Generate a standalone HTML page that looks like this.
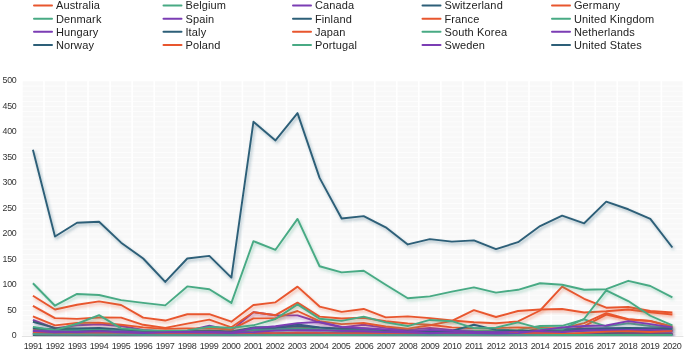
<!DOCTYPE html><html><head><meta charset="utf-8"><title>chart</title><style>
html,body{margin:0;padding:0;background:#fff}body{width:685px;height:352px;position:relative;overflow:hidden;font-family:"Liberation Sans",sans-serif;color:#333}
.lg{position:absolute;font-size:11px;line-height:13px;white-space:nowrap;color:#222;letter-spacing:0.15px}
.yl{position:absolute;left:0;width:16.2px;text-align:right;font-size:9.4px;line-height:10px;color:#333;letter-spacing:-0.4px;transform:scaleX(0.94);transform-origin:100% 50%}
.xl{position:absolute;top:340.7px;width:30px;text-align:center;font-size:9.4px;line-height:10px;color:#333;letter-spacing:-0.4px;transform:scaleX(0.965)}
</style></head><body>
<svg width="685" height="352" viewBox="0 0 685 352" style="position:absolute;left:0;top:0">
<defs><filter id="sh" x="-5%" y="-5%" width="110%" height="110%"><feGaussianBlur in="SourceGraphic" stdDeviation="1.5"/></filter></defs>
<rect x="21.9" y="81.0" width="661.5" height="255.0" fill="#f8f8f8"/>
<path d="M21.9 336.00H683.4 M21.9 330.90H683.4 M21.9 325.80H683.4 M21.9 320.70H683.4 M21.9 315.60H683.4 M21.9 310.50H683.4 M21.9 305.40H683.4 M21.9 300.30H683.4 M21.9 295.20H683.4 M21.9 290.10H683.4 M21.9 285.00H683.4 M21.9 279.90H683.4 M21.9 274.80H683.4 M21.9 269.70H683.4 M21.9 264.60H683.4 M21.9 259.50H683.4 M21.9 254.40H683.4 M21.9 249.30H683.4 M21.9 244.20H683.4 M21.9 239.10H683.4 M21.9 234.00H683.4 M21.9 228.90H683.4 M21.9 223.80H683.4 M21.9 218.70H683.4 M21.9 213.60H683.4 M21.9 208.50H683.4 M21.9 203.40H683.4 M21.9 198.30H683.4 M21.9 193.20H683.4 M21.9 188.10H683.4 M21.9 183.00H683.4 M21.9 177.90H683.4 M21.9 172.80H683.4 M21.9 167.70H683.4 M21.9 162.60H683.4 M21.9 157.50H683.4 M21.9 152.40H683.4 M21.9 147.30H683.4 M21.9 142.20H683.4 M21.9 137.10H683.4 M21.9 132.00H683.4 M21.9 126.90H683.4 M21.9 121.80H683.4 M21.9 116.70H683.4 M21.9 111.60H683.4 M21.9 106.50H683.4 M21.9 101.40H683.4 M21.9 96.30H683.4 M21.9 91.20H683.4 M21.9 86.10H683.4 M21.9 81.00H683.4" stroke="#ffffff" stroke-width="1" fill="none" opacity="0.7"/>
<path d="M21.90 81.0V336.0 M43.95 81.0V336.0 M66.00 81.0V336.0 M88.05 81.0V336.0 M110.10 81.0V336.0 M132.15 81.0V336.0 M154.20 81.0V336.0 M176.25 81.0V336.0 M198.30 81.0V336.0 M220.35 81.0V336.0 M242.40 81.0V336.0 M264.45 81.0V336.0 M286.50 81.0V336.0 M308.55 81.0V336.0 M330.60 81.0V336.0 M352.65 81.0V336.0 M374.70 81.0V336.0 M396.75 81.0V336.0 M418.80 81.0V336.0 M440.85 81.0V336.0 M462.90 81.0V336.0 M484.95 81.0V336.0 M507.00 81.0V336.0 M529.05 81.0V336.0 M551.10 81.0V336.0 M573.15 81.0V336.0 M595.20 81.0V336.0 M617.25 81.0V336.0 M639.30 81.0V336.0 M661.35 81.0V336.0 M683.40 81.0V336.0" stroke="#ffffff" stroke-width="1.6" fill="none"/>
<path d="M21.9 336.5H683.4" stroke="#e2e2e2" stroke-width="1" fill="none"/>
<clipPath id="cp"><rect x="0" y="60" width="685" height="276.2"/></clipPath><g clip-path="url(#cp)">
<polyline points="32.92,328.91 54.98,331.41 77.03,332.89 99.07,332.84 121.12,332.79 143.18,333.35 165.23,333.30 187.28,333.35 209.33,332.58 231.38,333.55 253.43,330.24 275.48,330.13 297.52,326.97 319.57,329.73 341.62,330.24 363.68,331.05 385.72,331.26 407.77,331.92 429.82,332.38 451.88,332.38 473.93,333.70 495.97,333.04 518.02,333.45 540.08,328.10 562.12,331.92 584.17,326.06 606.23,314.58 628.27,319.53 650.33,321.06 672.38,326.72" fill="none" stroke="#e8562e" stroke-width="2" stroke-opacity="0.4" filter="url(#sh)" transform="translate(1.4,2)"/>
<polyline points="32.92,328.91 54.98,331.41 77.03,332.89 99.07,332.84 121.12,332.79 143.18,333.35 165.23,333.30 187.28,333.35 209.33,332.58 231.38,333.55 253.43,330.24 275.48,330.13 297.52,326.97 319.57,329.73 341.62,330.24 363.68,331.05 385.72,331.26 407.77,331.92 429.82,332.38 451.88,332.38 473.93,333.70 495.97,333.04 518.02,333.45 540.08,328.10 562.12,331.92 584.17,326.06 606.23,314.58 628.27,319.53 650.33,321.06 672.38,326.72" fill="none" stroke="#e8562e" stroke-width="1.9" stroke-linejoin="round" stroke-linecap="butt"/>
<polyline points="32.92,327.53 54.98,330.44 77.03,330.19 99.07,330.54 121.12,331.56 143.18,331.67 165.23,332.33 187.28,330.85 209.33,331.46 231.38,332.69 253.43,329.68 275.48,329.83 297.52,329.42 319.57,329.83 341.62,331.15 363.68,330.34 385.72,330.13 407.77,330.80 429.82,331.10 451.88,331.82 473.93,332.12 495.97,332.48 518.02,330.95 540.08,331.36 562.12,329.06 584.17,329.62 606.23,330.34 628.27,329.37 650.33,329.57 672.38,330.34" fill="none" stroke="#48aa84" stroke-width="2" stroke-opacity="0.4" filter="url(#sh)" transform="translate(1.4,2)"/>
<polyline points="32.92,327.53 54.98,330.44 77.03,330.19 99.07,330.54 121.12,331.56 143.18,331.67 165.23,332.33 187.28,330.85 209.33,331.46 231.38,332.69 253.43,329.68 275.48,329.83 297.52,329.42 319.57,329.83 341.62,331.15 363.68,330.34 385.72,330.13 407.77,330.80 429.82,331.10 451.88,331.82 473.93,332.12 495.97,332.48 518.02,330.95 540.08,331.36 562.12,329.06 584.17,329.62 606.23,330.34 628.27,329.37 650.33,329.57 672.38,330.34" fill="none" stroke="#48aa84" stroke-width="1.9" stroke-linejoin="round" stroke-linecap="butt"/>
<polyline points="32.92,319.94 54.98,328.35 77.03,325.29 99.07,324.27 121.12,325.95 143.18,329.88 165.23,331.41 187.28,330.90 209.33,325.80 231.38,330.39 253.43,312.18 275.48,315.19 297.52,315.40 319.57,322.23 341.62,327.33 363.68,324.78 385.72,327.84 407.77,329.88 429.82,327.84 451.88,329.88 473.93,330.90 495.97,331.41 518.02,330.90 540.08,330.90 562.12,331.41 584.17,330.90 606.23,330.39 628.27,329.88 650.33,330.39 672.38,330.90" fill="none" stroke="#7b3db4" stroke-width="2" stroke-opacity="0.4" filter="url(#sh)" transform="translate(1.4,2)"/>
<polyline points="32.92,319.94 54.98,328.35 77.03,325.29 99.07,324.27 121.12,325.95 143.18,329.88 165.23,331.41 187.28,330.90 209.33,325.80 231.38,330.39 253.43,312.18 275.48,315.19 297.52,315.40 319.57,322.23 341.62,327.33 363.68,324.78 385.72,327.84 407.77,329.88 429.82,327.84 451.88,329.88 473.93,330.90 495.97,331.41 518.02,330.90 540.08,330.90 562.12,331.41 584.17,330.90 606.23,330.39 628.27,329.88 650.33,330.39 672.38,330.90" fill="none" stroke="#7b3db4" stroke-width="1.9" stroke-linejoin="round" stroke-linecap="butt"/>
<polyline points="32.92,328.35 54.98,329.37 77.03,329.98 99.07,330.85 121.12,330.85 143.18,332.18 165.23,333.19 187.28,332.69 209.33,331.77 231.38,332.84 253.43,329.06 275.48,328.10 297.52,325.90 319.57,327.64 341.62,329.06 363.68,329.12 385.72,331.10 407.77,331.87 429.82,332.38 451.88,332.43 473.93,331.87 495.97,331.72 518.02,331.26 540.08,330.85 562.12,330.95 584.17,329.62 606.23,328.86 628.27,330.03 650.33,329.62 672.38,329.22" fill="none" stroke="#2d5f78" stroke-width="2" stroke-opacity="0.4" filter="url(#sh)" transform="translate(1.4,2)"/>
<polyline points="32.92,328.35 54.98,329.37 77.03,329.98 99.07,330.85 121.12,330.85 143.18,332.18 165.23,333.19 187.28,332.69 209.33,331.77 231.38,332.84 253.43,329.06 275.48,328.10 297.52,325.90 319.57,327.64 341.62,329.06 363.68,329.12 385.72,331.10 407.77,331.87 429.82,332.38 451.88,332.43 473.93,331.87 495.97,331.72 518.02,331.26 540.08,330.85 562.12,330.95 584.17,329.62 606.23,328.86 628.27,330.03 650.33,329.62 672.38,329.22" fill="none" stroke="#2d5f78" stroke-width="1.9" stroke-linejoin="round" stroke-linecap="butt"/>
<polyline points="32.92,295.81 54.98,309.48 77.03,304.79 99.07,301.42 121.12,304.99 143.18,317.64 165.23,320.55 187.28,314.22 209.33,314.22 231.38,321.72 253.43,304.99 275.48,302.34 297.52,286.63 319.57,306.57 341.62,311.83 363.68,308.97 385.72,317.33 407.77,316.37 429.82,318.15 451.88,320.55 473.93,322.23 495.97,323.30 518.02,321.41 540.08,310.50 562.12,286.63 584.17,298.77 606.23,307.69 628.27,307.03 650.33,311.01 672.38,312.44" fill="none" stroke="#e8562e" stroke-width="2" stroke-opacity="0.4" filter="url(#sh)" transform="translate(1.4,2)"/>
<polyline points="32.92,295.81 54.98,309.48 77.03,304.79 99.07,301.42 121.12,304.99 143.18,317.64 165.23,320.55 187.28,314.22 209.33,314.22 231.38,321.72 253.43,304.99 275.48,302.34 297.52,286.63 319.57,306.57 341.62,311.83 363.68,308.97 385.72,317.33 407.77,316.37 429.82,318.15 451.88,320.55 473.93,322.23 495.97,323.30 518.02,321.41 540.08,310.50 562.12,286.63 584.17,298.77 606.23,307.69 628.27,307.03 650.33,311.01 672.38,312.44" fill="none" stroke="#e8562e" stroke-width="1.9" stroke-linejoin="round" stroke-linecap="butt"/>
<polyline points="32.92,330.90 54.98,331.41 77.03,330.13 99.07,328.86 121.12,330.90 143.18,331.41 165.23,331.92 187.28,331.41 209.33,330.90 231.38,331.92 253.43,329.88 275.48,329.37 297.52,328.10 319.57,329.37 341.62,329.88 363.68,329.37 385.72,330.39 407.77,330.90 429.82,330.39 451.88,330.90 473.93,330.90 495.97,330.39 518.02,329.88 540.08,325.95 562.12,325.80 584.17,319.43 606.23,326.41 628.27,323.25 650.33,325.95 672.38,327.84" fill="none" stroke="#48aa84" stroke-width="2" stroke-opacity="0.4" filter="url(#sh)" transform="translate(1.4,2)"/>
<polyline points="32.92,330.90 54.98,331.41 77.03,330.13 99.07,328.86 121.12,330.90 143.18,331.41 165.23,331.92 187.28,331.41 209.33,330.90 231.38,331.92 253.43,329.88 275.48,329.37 297.52,328.10 319.57,329.37 341.62,329.88 363.68,329.37 385.72,330.39 407.77,330.90 429.82,330.39 451.88,330.90 473.93,330.90 495.97,330.39 518.02,329.88 540.08,325.95 562.12,325.80 584.17,319.43 606.23,326.41 628.27,323.25 650.33,325.95 672.38,327.84" fill="none" stroke="#48aa84" stroke-width="1.9" stroke-linejoin="round" stroke-linecap="butt"/>
<polyline points="32.92,333.25 54.98,334.01 77.03,333.19 99.07,334.16 121.12,333.40 143.18,334.16 165.23,334.67 187.28,333.96 209.33,334.21 231.38,334.06 253.43,333.65 275.48,333.60 297.52,332.53 319.57,332.43 341.62,333.55 363.68,333.40 385.72,333.25 407.77,332.74 429.82,333.35 451.88,333.60 473.93,333.19 495.97,334.73 518.02,333.40 540.08,333.81 562.12,334.01 584.17,334.06 606.23,333.25 628.27,332.43 650.33,333.45 672.38,333.30" fill="none" stroke="#7b3db4" stroke-width="2" stroke-opacity="0.4" filter="url(#sh)" transform="translate(1.4,2)"/>
<polyline points="32.92,333.25 54.98,334.01 77.03,333.19 99.07,334.16 121.12,333.40 143.18,334.16 165.23,334.67 187.28,333.96 209.33,334.21 231.38,334.06 253.43,333.65 275.48,333.60 297.52,332.53 319.57,332.43 341.62,333.55 363.68,333.40 385.72,333.25 407.77,332.74 429.82,333.35 451.88,333.60 473.93,333.19 495.97,334.73 518.02,333.40 540.08,333.81 562.12,334.01 584.17,334.06 606.23,333.25 628.27,332.43 650.33,333.45 672.38,333.30" fill="none" stroke="#7b3db4" stroke-width="1.9" stroke-linejoin="round" stroke-linecap="butt"/>
<polyline points="32.92,332.99 54.98,334.57 77.03,334.37 99.07,334.11 121.12,333.35 143.18,335.13 165.23,334.57 187.28,334.37 209.33,333.35 231.38,333.96 253.43,332.84 275.48,333.81 297.52,333.09 319.57,333.70 341.62,333.35 363.68,333.19 385.72,334.52 407.77,334.47 429.82,334.42 451.88,334.42 473.93,333.96 495.97,334.32 518.02,334.88 540.08,334.78 562.12,334.11 584.17,334.16 606.23,333.35 628.27,332.74 650.33,333.14 672.38,333.96" fill="none" stroke="#2d5f78" stroke-width="2" stroke-opacity="0.4" filter="url(#sh)" transform="translate(1.4,2)"/>
<polyline points="32.92,332.99 54.98,334.57 77.03,334.37 99.07,334.11 121.12,333.35 143.18,335.13 165.23,334.57 187.28,334.37 209.33,333.35 231.38,333.96 253.43,332.84 275.48,333.81 297.52,333.09 319.57,333.70 341.62,333.35 363.68,333.19 385.72,334.52 407.77,334.47 429.82,334.42 451.88,334.42 473.93,333.96 495.97,334.32 518.02,334.88 540.08,334.78 562.12,334.11 584.17,334.16 606.23,333.35 628.27,332.74 650.33,333.14 672.38,333.96" fill="none" stroke="#2d5f78" stroke-width="1.9" stroke-linejoin="round" stroke-linecap="butt"/>
<polyline points="32.92,305.91 54.98,318.15 77.03,318.86 99.07,317.54 121.12,317.64 143.18,324.78 165.23,327.84 187.28,323.56 209.33,319.68 231.38,327.33 253.43,312.18 275.48,315.19 297.52,302.60 319.57,316.62 341.62,318.51 363.68,317.79 385.72,321.21 407.77,323.56 429.82,324.78 451.88,327.33 473.93,328.35 495.97,328.10 518.02,327.33 540.08,327.84 562.12,328.35 584.17,323.10 606.23,313.20 628.27,319.22 650.33,320.90 672.38,326.56" fill="none" stroke="#e8562e" stroke-width="2" stroke-opacity="0.4" filter="url(#sh)" transform="translate(1.4,2)"/>
<polyline points="32.92,305.91 54.98,318.15 77.03,318.86 99.07,317.54 121.12,317.64 143.18,324.78 165.23,327.84 187.28,323.56 209.33,319.68 231.38,327.33 253.43,312.18 275.48,315.19 297.52,302.60 319.57,316.62 341.62,318.51 363.68,317.79 385.72,321.21 407.77,323.56 429.82,324.78 451.88,327.33 473.93,328.35 495.97,328.10 518.02,327.33 540.08,327.84 562.12,328.35 584.17,323.10 606.23,313.20 628.27,319.22 650.33,320.90 672.38,326.56" fill="none" stroke="#e8562e" stroke-width="1.9" stroke-linejoin="round" stroke-linecap="butt"/>
<polyline points="32.92,283.27 54.98,305.71 77.03,293.93 99.07,295.05 121.12,300.10 143.18,302.90 165.23,305.40 187.28,286.43 209.33,289.23 231.38,302.90 253.43,241.14 275.48,249.81 297.52,218.90 319.57,266.23 341.62,272.40 363.68,270.72 385.72,284.75 407.77,298.26 429.82,296.37 451.88,291.63 473.93,287.35 495.97,292.65 518.02,289.79 540.08,283.22 562.12,284.75 584.17,289.79 606.23,289.23 628.27,280.82 650.33,286.02 672.38,297.29" fill="none" stroke="#48aa84" stroke-width="2" stroke-opacity="0.4" filter="url(#sh)" transform="translate(1.4,2)"/>
<polyline points="32.92,283.27 54.98,305.71 77.03,293.93 99.07,295.05 121.12,300.10 143.18,302.90 165.23,305.40 187.28,286.43 209.33,289.23 231.38,302.90 253.43,241.14 275.48,249.81 297.52,218.90 319.57,266.23 341.62,272.40 363.68,270.72 385.72,284.75 407.77,298.26 429.82,296.37 451.88,291.63 473.93,287.35 495.97,292.65 518.02,289.79 540.08,283.22 562.12,284.75 584.17,289.79 606.23,289.23 628.27,280.82 650.33,286.02 672.38,297.29" fill="none" stroke="#48aa84" stroke-width="1.9" stroke-linejoin="round" stroke-linecap="butt"/>
<polyline points="32.92,333.76 54.98,334.67 77.03,334.37 99.07,335.18 121.12,335.18 143.18,334.93 165.23,334.67 187.28,334.57 209.33,334.78 231.38,334.32 253.43,334.01 275.48,334.27 297.52,332.99 319.57,333.65 341.62,334.37 363.68,333.86 385.72,334.42 407.77,333.86 429.82,334.11 451.88,334.83 473.93,333.70 495.97,335.08 518.02,334.62 540.08,334.06 562.12,335.03 584.17,333.96 606.23,334.73 628.27,333.70 650.33,333.55 672.38,333.86" fill="none" stroke="#7b3db4" stroke-width="2" stroke-opacity="0.4" filter="url(#sh)" transform="translate(1.4,2)"/>
<polyline points="32.92,333.76 54.98,334.67 77.03,334.37 99.07,335.18 121.12,335.18 143.18,334.93 165.23,334.67 187.28,334.57 209.33,334.78 231.38,334.32 253.43,334.01 275.48,334.27 297.52,332.99 319.57,333.65 341.62,334.37 363.68,333.86 385.72,334.42 407.77,333.86 429.82,334.11 451.88,334.83 473.93,333.70 495.97,335.08 518.02,334.62 540.08,334.06 562.12,335.03 584.17,333.96 606.23,334.73 628.27,333.70 650.33,333.55 672.38,333.86" fill="none" stroke="#7b3db4" stroke-width="1.9" stroke-linejoin="round" stroke-linecap="butt"/>
<polyline points="32.92,321.72 54.98,327.84 77.03,328.35 99.07,327.84 121.12,329.37 143.18,330.90 165.23,331.41 187.28,330.90 209.33,330.39 231.38,331.41 253.43,327.33 275.48,326.92 297.52,324.52 319.57,327.33 341.62,328.61 363.68,328.35 385.72,330.13 407.77,330.90 429.82,331.41 451.88,330.90 473.93,324.78 495.97,329.88 518.02,330.90 540.08,330.39 562.12,329.37 584.17,328.35 606.23,328.10 628.27,327.84 650.33,328.10 672.38,328.35" fill="none" stroke="#2d5f78" stroke-width="2" stroke-opacity="0.4" filter="url(#sh)" transform="translate(1.4,2)"/>
<polyline points="32.92,321.72 54.98,327.84 77.03,328.35 99.07,327.84 121.12,329.37 143.18,330.90 165.23,331.41 187.28,330.90 209.33,330.39 231.38,331.41 253.43,327.33 275.48,326.92 297.52,324.52 319.57,327.33 341.62,328.61 363.68,328.35 385.72,330.13 407.77,330.90 429.82,331.41 451.88,330.90 473.93,324.78 495.97,329.88 518.02,330.90 540.08,330.39 562.12,329.37 584.17,328.35 606.23,328.10 628.27,327.84 650.33,328.10 672.38,328.35" fill="none" stroke="#2d5f78" stroke-width="1.9" stroke-linejoin="round" stroke-linecap="butt"/>
<polyline points="32.92,316.37 54.98,325.34 77.03,322.94 99.07,322.59 121.12,324.78 143.18,327.33 165.23,328.86 187.28,328.35 209.33,328.35 231.38,329.52 253.43,318.40 275.48,318.15 297.52,311.01 319.57,321.21 341.62,324.17 363.68,322.94 385.72,326.56 407.77,328.61 429.82,325.29 451.88,320.90 473.93,310.14 495.97,316.98 518.02,311.01 540.08,309.48 562.12,308.97 584.17,312.54 606.23,311.32 628.27,309.48 650.33,312.29 672.38,314.43" fill="none" stroke="#e8562e" stroke-width="2" stroke-opacity="0.4" filter="url(#sh)" transform="translate(1.4,2)"/>
<polyline points="32.92,316.37 54.98,325.34 77.03,322.94 99.07,322.59 121.12,324.78 143.18,327.33 165.23,328.86 187.28,328.35 209.33,328.35 231.38,329.52 253.43,318.40 275.48,318.15 297.52,311.01 319.57,321.21 341.62,324.17 363.68,322.94 385.72,326.56 407.77,328.61 429.82,325.29 451.88,320.90 473.93,310.14 495.97,316.98 518.02,311.01 540.08,309.48 562.12,308.97 584.17,312.54 606.23,311.32 628.27,309.48 650.33,312.29 672.38,314.43" fill="none" stroke="#e8562e" stroke-width="1.9" stroke-linejoin="round" stroke-linecap="butt"/>
<polyline points="32.92,326.92 54.98,330.13 77.03,323.76 99.07,315.19 121.12,328.35 143.18,330.13 165.23,330.90 187.28,330.39 209.33,326.82 231.38,327.84 253.43,325.29 275.48,319.02 297.52,304.38 319.57,318.76 341.62,320.90 363.68,316.62 385.72,322.33 407.77,326.06 429.82,319.94 451.88,321.21 473.93,328.10 495.97,327.58 518.02,322.33 540.08,328.35 562.12,329.37 584.17,318.76 606.23,290.36 628.27,301.06 650.33,315.75 672.38,325.34" fill="none" stroke="#48aa84" stroke-width="2" stroke-opacity="0.4" filter="url(#sh)" transform="translate(1.4,2)"/>
<polyline points="32.92,326.92 54.98,330.13 77.03,323.76 99.07,315.19 121.12,328.35 143.18,330.13 165.23,330.90 187.28,330.39 209.33,326.82 231.38,327.84 253.43,325.29 275.48,319.02 297.52,304.38 319.57,318.76 341.62,320.90 363.68,316.62 385.72,322.33 407.77,326.06 429.82,319.94 451.88,321.21 473.93,328.10 495.97,327.58 518.02,322.33 540.08,328.35 562.12,329.37 584.17,318.76 606.23,290.36 628.27,301.06 650.33,315.75 672.38,325.34" fill="none" stroke="#48aa84" stroke-width="1.9" stroke-linejoin="round" stroke-linecap="butt"/>
<polyline points="32.92,330.95 54.98,331.51 77.03,331.97 99.07,331.92 121.12,331.46 143.18,332.69 165.23,332.43 187.28,331.67 209.33,332.07 231.38,332.58 253.43,328.15 275.48,326.21 297.52,323.15 319.57,322.03 341.62,326.87 363.68,328.20 385.72,329.37 407.77,331.46 429.82,329.88 451.88,330.64 473.93,331.67 495.97,332.18 518.02,331.82 540.08,332.02 562.12,332.23 584.17,330.13 606.23,330.13 628.27,329.83 650.33,329.68 672.38,331.00" fill="none" stroke="#7b3db4" stroke-width="2" stroke-opacity="0.4" filter="url(#sh)" transform="translate(1.4,2)"/>
<polyline points="32.92,330.95 54.98,331.51 77.03,331.97 99.07,331.92 121.12,331.46 143.18,332.69 165.23,332.43 187.28,331.67 209.33,332.07 231.38,332.58 253.43,328.15 275.48,326.21 297.52,323.15 319.57,322.03 341.62,326.87 363.68,328.20 385.72,329.37 407.77,331.46 429.82,329.88 451.88,330.64 473.93,331.67 495.97,332.18 518.02,331.82 540.08,332.02 562.12,332.23 584.17,330.13 606.23,330.13 628.27,329.83 650.33,329.68 672.38,331.00" fill="none" stroke="#7b3db4" stroke-width="1.9" stroke-linejoin="round" stroke-linecap="butt"/>
<polyline points="32.92,334.98 54.98,334.98 77.03,334.98 99.07,334.98 121.12,334.98 143.18,334.98 165.23,334.98 187.28,334.98 209.33,334.98 231.38,334.98 253.43,334.47 275.48,334.47 297.52,333.96 319.57,334.47 341.62,334.47 363.68,334.47 385.72,334.98 407.77,334.98 429.82,334.98 451.88,334.98 473.93,334.98 495.97,334.98 518.02,334.98 540.08,334.98 562.12,334.98 584.17,334.98 606.23,334.47 628.27,334.47 650.33,334.47 672.38,334.47" fill="none" stroke="#2d5f78" stroke-width="2" stroke-opacity="0.4" filter="url(#sh)" transform="translate(1.4,2)"/>
<polyline points="32.92,334.98 54.98,334.98 77.03,334.98 99.07,334.98 121.12,334.98 143.18,334.98 165.23,334.98 187.28,334.98 209.33,334.98 231.38,334.98 253.43,334.47 275.48,334.47 297.52,333.96 319.57,334.47 341.62,334.47 363.68,334.47 385.72,334.98 407.77,334.98 429.82,334.98 451.88,334.98 473.93,334.98 495.97,334.98 518.02,334.98 540.08,334.98 562.12,334.98 584.17,334.98 606.23,334.47 628.27,334.47 650.33,334.47 672.38,334.47" fill="none" stroke="#2d5f78" stroke-width="1.9" stroke-linejoin="round" stroke-linecap="butt"/>
<polyline points="32.92,332.74 54.98,333.14 77.03,334.16 99.07,332.79 121.12,332.99 143.18,333.35 165.23,333.45 187.28,333.60 209.33,333.60 231.38,334.62 253.43,332.74 275.48,333.14 297.52,332.63 319.57,332.89 341.62,333.50 363.68,333.19 385.72,333.65 407.77,334.27 429.82,334.01 451.88,334.11 473.93,333.65 495.97,334.21 518.02,332.84 540.08,333.25 562.12,334.01 584.17,332.84 606.23,331.67 628.27,331.10 650.33,332.02 672.38,330.85" fill="none" stroke="#e8562e" stroke-width="2" stroke-opacity="0.4" filter="url(#sh)" transform="translate(1.4,2)"/>
<polyline points="32.92,332.74 54.98,333.14 77.03,334.16 99.07,332.79 121.12,332.99 143.18,333.35 165.23,333.45 187.28,333.60 209.33,333.60 231.38,334.62 253.43,332.74 275.48,333.14 297.52,332.63 319.57,332.89 341.62,333.50 363.68,333.19 385.72,333.65 407.77,334.27 429.82,334.01 451.88,334.11 473.93,333.65 495.97,334.21 518.02,332.84 540.08,333.25 562.12,334.01 584.17,332.84 606.23,331.67 628.27,331.10 650.33,332.02 672.38,330.85" fill="none" stroke="#e8562e" stroke-width="1.9" stroke-linejoin="round" stroke-linecap="butt"/>
<polyline points="32.92,333.96 54.98,334.47 77.03,334.47 99.07,334.47 121.12,334.47 143.18,334.98 165.23,334.98 187.28,334.98 209.33,334.98 231.38,334.98 253.43,334.98 275.48,334.98 297.52,334.98 319.57,334.98 341.62,334.98 363.68,334.98 385.72,334.98 407.77,334.98 429.82,334.98 451.88,334.98 473.93,334.98 495.97,334.98 518.02,334.98 540.08,334.98 562.12,334.98 584.17,334.98 606.23,334.98 628.27,334.98 650.33,334.98 672.38,334.98" fill="none" stroke="#48aa84" stroke-width="2" stroke-opacity="0.4" filter="url(#sh)" transform="translate(1.4,2)"/>
<polyline points="32.92,333.96 54.98,334.47 77.03,334.47 99.07,334.47 121.12,334.47 143.18,334.98 165.23,334.98 187.28,334.98 209.33,334.98 231.38,334.98 253.43,334.98 275.48,334.98 297.52,334.98 319.57,334.98 341.62,334.98 363.68,334.98 385.72,334.98 407.77,334.98 429.82,334.98 451.88,334.98 473.93,334.98 495.97,334.98 518.02,334.98 540.08,334.98 562.12,334.98 584.17,334.98 606.23,334.98 628.27,334.98 650.33,334.98 672.38,334.98" fill="none" stroke="#48aa84" stroke-width="1.9" stroke-linejoin="round" stroke-linecap="butt"/>
<polyline points="32.92,330.80 54.98,332.23 77.03,331.61 99.07,331.26 121.12,332.28 143.18,332.99 165.23,332.38 187.28,332.23 209.33,332.48 231.38,332.69 253.43,332.12 275.48,330.59 297.52,330.13 319.57,330.08 341.62,330.90 363.68,331.26 385.72,332.12 407.77,332.18 429.82,333.19 451.88,332.48 473.93,332.99 495.97,333.55 518.02,333.14 540.08,330.39 562.12,327.33 584.17,326.00 606.23,325.55 628.27,321.16 650.33,324.17 672.38,327.33" fill="none" stroke="#7b3db4" stroke-width="2" stroke-opacity="0.4" filter="url(#sh)" transform="translate(1.4,2)"/>
<polyline points="32.92,330.80 54.98,332.23 77.03,331.61 99.07,331.26 121.12,332.28 143.18,332.99 165.23,332.38 187.28,332.23 209.33,332.48 231.38,332.69 253.43,332.12 275.48,330.59 297.52,330.13 319.57,330.08 341.62,330.90 363.68,331.26 385.72,332.12 407.77,332.18 429.82,333.19 451.88,332.48 473.93,332.99 495.97,333.55 518.02,333.14 540.08,330.39 562.12,327.33 584.17,326.00 606.23,325.55 628.27,321.16 650.33,324.17 672.38,327.33" fill="none" stroke="#7b3db4" stroke-width="1.9" stroke-linejoin="round" stroke-linecap="butt"/>
<polyline points="32.92,149.85 54.98,236.55 77.03,222.78 99.07,221.76 121.12,242.67 143.18,258.48 165.23,281.94 187.28,258.48 209.33,255.93 231.38,277.61 253.43,121.80 275.48,140.41 297.52,113.13 319.57,177.90 341.62,218.44 363.68,216.15 385.72,227.37 407.77,244.45 429.82,239.10 451.88,241.65 473.93,240.38 495.97,249.05 518.02,242.16 540.08,226.09 562.12,215.64 584.17,223.29 606.23,201.62 628.27,209.26 650.33,218.95 672.38,247.51" fill="none" stroke="#2d5f78" stroke-width="2" stroke-opacity="0.4" filter="url(#sh)" transform="translate(1.4,2)"/>
<polyline points="32.92,149.85 54.98,236.55 77.03,222.78 99.07,221.76 121.12,242.67 143.18,258.48 165.23,281.94 187.28,258.48 209.33,255.93 231.38,277.61 253.43,121.80 275.48,140.41 297.52,113.13 319.57,177.90 341.62,218.44 363.68,216.15 385.72,227.37 407.77,244.45 429.82,239.10 451.88,241.65 473.93,240.38 495.97,249.05 518.02,242.16 540.08,226.09 562.12,215.64 584.17,223.29 606.23,201.62 628.27,209.26 650.33,218.95 672.38,247.51" fill="none" stroke="#2d5f78" stroke-width="1.9" stroke-linejoin="round" stroke-linecap="butt"/>
</g>
<path d="M34 5.6H52" stroke="#e8562e" stroke-width="2" stroke-linecap="round"/>
<path d="M163.5 5.6H181.5" stroke="#48aa84" stroke-width="2" stroke-linecap="round"/>
<path d="M293 5.6H311" stroke="#7b3db4" stroke-width="2" stroke-linecap="round"/>
<path d="M422.5 5.6H440.5" stroke="#2d5f78" stroke-width="2" stroke-linecap="round"/>
<path d="M552 5.6H570" stroke="#e8562e" stroke-width="2" stroke-linecap="round"/>
<path d="M34 18.8H52" stroke="#48aa84" stroke-width="2" stroke-linecap="round"/>
<path d="M163.5 18.8H181.5" stroke="#7b3db4" stroke-width="2" stroke-linecap="round"/>
<path d="M293 18.8H311" stroke="#2d5f78" stroke-width="2" stroke-linecap="round"/>
<path d="M422.5 18.8H440.5" stroke="#e8562e" stroke-width="2" stroke-linecap="round"/>
<path d="M552 18.8H570" stroke="#48aa84" stroke-width="2" stroke-linecap="round"/>
<path d="M34 31.8H52" stroke="#7b3db4" stroke-width="2" stroke-linecap="round"/>
<path d="M163.5 31.8H181.5" stroke="#2d5f78" stroke-width="2" stroke-linecap="round"/>
<path d="M293 31.8H311" stroke="#e8562e" stroke-width="2" stroke-linecap="round"/>
<path d="M422.5 31.8H440.5" stroke="#48aa84" stroke-width="2" stroke-linecap="round"/>
<path d="M552 31.8H570" stroke="#7b3db4" stroke-width="2" stroke-linecap="round"/>
<path d="M34 45H52" stroke="#2d5f78" stroke-width="2" stroke-linecap="round"/>
<path d="M163.5 45H181.5" stroke="#e8562e" stroke-width="2" stroke-linecap="round"/>
<path d="M293 45H311" stroke="#48aa84" stroke-width="2" stroke-linecap="round"/>
<path d="M422.5 45H440.5" stroke="#7b3db4" stroke-width="2" stroke-linecap="round"/>
<path d="M552 45H570" stroke="#2d5f78" stroke-width="2" stroke-linecap="round"/>
</svg>
<div class="lg" style="left:55.9px;top:-0.6px">Australia</div>
<div class="lg" style="left:185.4px;top:-0.6px">Belgium</div>
<div class="lg" style="left:314.9px;top:-0.6px">Canada</div>
<div class="lg" style="left:444.4px;top:-0.6px">Switzerland</div>
<div class="lg" style="left:573.9px;top:-0.6px">Germany</div>
<div class="lg" style="left:55.9px;top:12.6px">Denmark</div>
<div class="lg" style="left:185.4px;top:12.6px">Spain</div>
<div class="lg" style="left:314.9px;top:12.6px">Finland</div>
<div class="lg" style="left:444.4px;top:12.6px">France</div>
<div class="lg" style="left:573.9px;top:12.6px">United Kingdom</div>
<div class="lg" style="left:55.9px;top:25.6px">Hungary</div>
<div class="lg" style="left:185.4px;top:25.6px">Italy</div>
<div class="lg" style="left:314.9px;top:25.6px">Japan</div>
<div class="lg" style="left:444.4px;top:25.6px">South Korea</div>
<div class="lg" style="left:573.9px;top:25.6px">Netherlands</div>
<div class="lg" style="left:55.9px;top:38.8px">Norway</div>
<div class="lg" style="left:185.4px;top:38.8px">Poland</div>
<div class="lg" style="left:314.9px;top:38.8px">Portugal</div>
<div class="lg" style="left:444.4px;top:38.8px">Sweden</div>
<div class="lg" style="left:573.9px;top:38.8px">United States</div>
<div class="yl" style="top:330.4px">0</div>
<div class="yl" style="top:304.9px">50</div>
<div class="yl" style="top:279.4px">100</div>
<div class="yl" style="top:253.9px">150</div>
<div class="yl" style="top:228.4px">200</div>
<div class="yl" style="top:202.9px">250</div>
<div class="yl" style="top:177.4px">300</div>
<div class="yl" style="top:151.9px">350</div>
<div class="yl" style="top:126.4px">400</div>
<div class="yl" style="top:100.9px">450</div>
<div class="yl" style="top:75.4px">500</div>
<div class="xl" style="left:17.7px">1991</div>
<div class="xl" style="left:39.8px">1992</div>
<div class="xl" style="left:61.8px">1993</div>
<div class="xl" style="left:83.9px">1994</div>
<div class="xl" style="left:105.9px">1995</div>
<div class="xl" style="left:128.0px">1996</div>
<div class="xl" style="left:150.0px">1997</div>
<div class="xl" style="left:172.1px">1998</div>
<div class="xl" style="left:194.1px">1999</div>
<div class="xl" style="left:216.2px">2000</div>
<div class="xl" style="left:238.2px">2001</div>
<div class="xl" style="left:260.3px">2002</div>
<div class="xl" style="left:282.3px">2003</div>
<div class="xl" style="left:304.4px">2004</div>
<div class="xl" style="left:326.4px">2005</div>
<div class="xl" style="left:348.5px">2006</div>
<div class="xl" style="left:370.5px">2007</div>
<div class="xl" style="left:392.6px">2008</div>
<div class="xl" style="left:414.6px">2009</div>
<div class="xl" style="left:436.7px">2010</div>
<div class="xl" style="left:458.7px">2011</div>
<div class="xl" style="left:480.8px">2012</div>
<div class="xl" style="left:502.8px">2013</div>
<div class="xl" style="left:524.9px">2014</div>
<div class="xl" style="left:546.9px">2015</div>
<div class="xl" style="left:569.0px">2016</div>
<div class="xl" style="left:591.0px">2017</div>
<div class="xl" style="left:613.1px">2018</div>
<div class="xl" style="left:635.1px">2019</div>
<div class="xl" style="left:657.2px">2020</div>
</body></html>
